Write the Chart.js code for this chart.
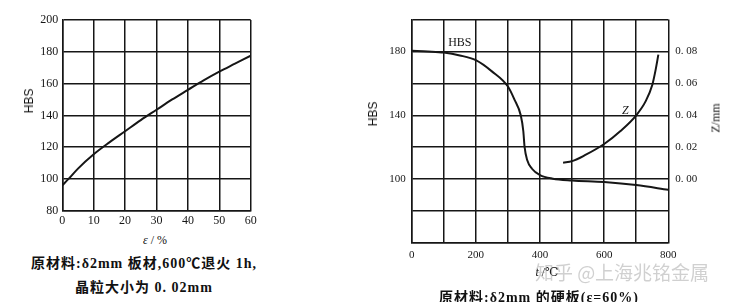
<!DOCTYPE html>
<html>
<head>
<meta charset="utf-8">
<script src="https://cdn.jsdelivr.net/npm/chart.js@4"></script>
<style>
  html, body { margin: 0; padding: 0; background: #fff; }
  body { width: 741px; height: 302px; position: relative; overflow: hidden; }
  canvas { position: absolute; }
  .t { position: absolute; color: #111; white-space: nowrap; transform: translate(-50%, -50%); }
  .serif { font-family: "Liberation Serif", "DejaVu Serif", serif; }
  .sans { font-family: "Liberation Sans", Arial, sans-serif; }
  .cjk { font-family: "Liberation Serif", "Noto Sans CJK SC", serif; font-weight: 700; font-size: 14px; letter-spacing: 1px; }
  .rot { transform: translate(-50%, -50%) rotate(-90deg); }
</style>
</head>
<body>
<canvas id="left" width="300" height="230" style="left:0;top:0;width:300px;height:230px"></canvas>
<canvas id="right" width="381" height="265" style="left:360px;top:0;width:381px;height:265px"></canvas>

<div class="t sans rot" style="left:29px;top:101px;font-size:12px">HBS</div>
<div class="t serif" style="left:155px;top:240px;font-size:12px"><i>ε</i> / %</div>
<div class="t cjk" style="left:144px;top:262px">原材料:δ2mm 板材,600℃退火 1h,</div>
<div class="t cjk" style="left:144px;top:286px">晶粒大小为 0. 02mm</div>

<div class="t sans rot" style="left:373px;top:114px;font-size:12px">HBS</div>
<div class="t serif rot" style="left:716px;top:118px;font-size:12px;font-weight:400">Z/mm</div>
<div class="t serif" style="left:547px;top:272px;font-size:12px"><i>t</i> /℃</div>
<div class="t" style="left:622px;top:271px;font-size:19px;font-family:'Noto Sans CJK SC';color:rgba(150,150,150,0.45)">知乎 @上海兆铭金属</div>
<div class="t cjk" style="left:539px;top:296px">原材料:δ2mm 的硬板(ε=60%)</div>

<script>
// left panel: hardness vs. cold reduction
const strainPct = [0, 2, 5, 10, 15, 20, 25, 30, 35, 40, 45, 50, 55, 60];
const strainHbs = [96, 100, 106.5, 115.5, 123, 130, 137, 143.5, 150, 156, 162, 167.5, 172.5, 177.5];

// right panel: hardness and grain size vs. annealing temperature
const annealT   = [0, 50, 100, 150, 200, 250, 300, 320, 340, 348, 352, 360, 375, 400, 440, 500, 600, 700, 800];
const annealHbs = [180.5, 180, 179.3, 177.5, 174.5, 167.5, 158, 150, 140, 130, 120, 112, 106.5, 102.5, 100.3, 99.2, 98.2, 96.3, 93.3];
const grainT    = [472, 500, 540, 600, 650, 700, 730, 750, 760, 769];
const grainZ    = [0.0103, 0.0113, 0.015, 0.022, 0.030, 0.040, 0.049, 0.059, 0.068, 0.078];

const leftYTicks  = [80, 100, 120, 140, 160, 180, 200];
const rightYShown = [100, 140, 180];
const rightZShown = [0, 2, 4, 6, 8]; // hundredths of a mm

const INK = "#161616";
const GRID = { color: INK, lineWidth: 1.5, drawTicks: false };
const BORDER = { color: INK, width: 1.5 };
const tickFont = size => ({ family: "'Liberation Serif', 'DejaVu Serif', serif", size });

const fixW = w => s => { s.width = w; };
const fixH = h => s => { s.height = h; };

const curve = (data, yAxisID) => ({
  data, yAxisID,
  borderColor: INK,
  borderWidth: 2,
  pointRadius: 0,
  fill: false,
  cubicInterpolationMode: "monotone",
});

// text labels sitting on the curves, placed in data coordinates
const curveLabels = {
  id: "curveLabels",
  afterDatasetsDraw(chart, args, opts) {
    const { ctx, scales } = chart;
    ctx.save();
    ctx.fillStyle = INK;
    ctx.textAlign = "center";
    ctx.textBaseline = "middle";
    for (const l of opts.items || []) {
      ctx.font = l.font;
      ctx.fillText(l.text, scales.x.getPixelForValue(l.x), scales.y.getPixelForValue(l.y));
    }
    ctx.restore();
  },
};
Chart.register(curveLabels);

new Chart(document.getElementById("left"), {
  type: "line",
  data: {
    datasets: [curve(strainPct.map((x, i) => ({ x, y: strainHbs[i] })), "y")],
  },
  options: {
    responsive: false,
    animation: false,
    layout: { padding: { top: 20, right: 49.3, left: 0, bottom: 0 } },
    plugins: { legend: { display: false }, tooltip: { enabled: false } },
    scales: {
      x: {
        type: "linear", min: 0, max: 60,
        ticks: { stepSize: 10, color: INK, font: tickFont(12), padding: 3, maxRotation: 0 },
        grid: GRID, border: BORDER,
        afterFit: fixH(19.3),
      },
      y: {
        min: 80, max: 200,
        afterBuildTicks: s => { s.ticks = leftYTicks.map(value => ({ value })); },
        ticks: { color: INK, font: tickFont(12), padding: 4 },
        grid: GRID, border: BORDER,
        afterFit: fixW(62.3),
      },
    },
  },
});

new Chart(document.getElementById("right"), {
  type: "line",
  data: {
    datasets: [
      curve(annealT.map((x, i) => ({ x, y: annealHbs[i] })), "y"),
      curve(grainT.map((x, i) => ({ x, y: grainZ[i] })), "z"),
    ],
  },
  options: {
    responsive: false,
    animation: false,
    layout: { padding: { top: 19.5, right: 0, left: 0, bottom: 0 } },
    plugins: {
      legend: { display: false }, tooltip: { enabled: false },
      curveLabels: {
        items: [
          { text: "HBS", x: 150, y: 185.3, font: "12px 'Liberation Serif', serif" },
          { text: "Z", x: 666, y: 143, font: "italic 12px 'Liberation Serif', serif" },
        ],
      },
    },
    scales: {
      x: {
        type: "linear", min: 0, max: 800,
        ticks: {
          stepSize: 100, color: INK, font: tickFont(11), padding: 6, maxRotation: 0,
          callback: v => (v % 200 === 0 ? v : ""),
        },
        grid: GRID, border: BORDER,
        afterFit: fixH(22),
      },
      y: {
        position: "left", min: 60, max: 200,
        ticks: {
          stepSize: 20, color: INK, font: tickFont(11), padding: 6,
          callback: v => (rightYShown.includes(v) ? v : ""),
        },
        grid: GRID, border: BORDER,
        afterFit: fixW(51.7),
      },
      z: {
        position: "right", min: -0.04, max: 0.10,
        ticks: {
          stepSize: 0.02, color: INK, font: tickFont(11), padding: 7,
          callback: v => {
            const n = Math.round(v * 100);
            return rightZShown.includes(n) ? "0. " + String(n).padStart(2, "0") : "";
          },
        },
        grid: { display: false, drawTicks: false },
        border: { display: false },
        afterFit: fixW(72.7),
      },
    },
  },
});
</script>
</body>
</html>
